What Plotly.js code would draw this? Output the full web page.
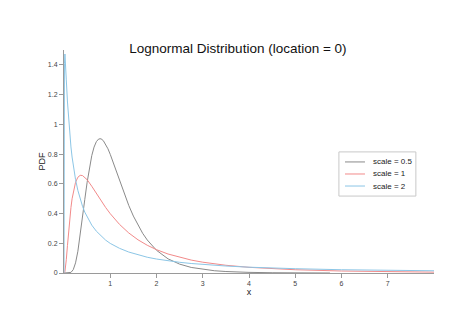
<!DOCTYPE html>
<html>
<head>
<meta charset="utf-8">
<script src="https://cdn.plot.ly/plotly-3.0.1.min.js"></script>
<style>html,body{margin:0;padding:0;background:#fff;}#chart{width:474px;height:335px;}</style>
</head>
<body>
<div id="chart"></div>
<script>
// scale = 0.5
const xScale05 = [0, 0.1, 0.15, 0.2, 0.25, 0.3, 0.35, 0.4, 0.45, 0.5, 0.55, 0.6, 0.65, 0.7, 0.75, 0.8, 0.85, 0.9, 0.95, 1.0, 1.05, 1.1, 1.15, 1.2, 1.3, 1.4, 1.5, 1.6, 1.7, 1.8, 1.9, 2.0, 2.25, 2.5, 2.75, 3.0, 3.25, 3.5, 3.75, 4.0, 4.5, 5.0, 5.75];
const yScale05 = [0, 0.0002, 0.0040, 0.0225, 0.0683, 0.1465, 0.2514, 0.3722, 0.4954, 0.6104, 0.7098, 0.7893, 0.8469, 0.8837, 0.9016, 0.9028, 0.8904, 0.8670, 0.8355, 0.7979, 0.7563, 0.7123, 0.6672, 0.6222, 0.5348, 0.4544, 0.3829, 0.3206, 0.2672, 0.2221, 0.1842, 0.1526, 0.0952, 0.0596, 0.0375, 0.0238, 0.0153, 0.0099, 0.0065, 0.0043, 0.0019, 0.0009, 0.0001];
// scale = 1
const xScale1 = [0, 0.01, 0.02, 0.03, 0.05, 0.075, 0.1, 0.125, 0.15, 0.175, 0.2, 0.25, 0.3, 0.35, 0.4, 0.45, 0.5, 0.6, 0.7, 0.8, 0.9, 1.0, 1.2, 1.4, 1.6, 1.8, 2.0, 2.25, 2.5, 2.75, 3.0, 3.5, 4.0, 4.5, 5.0, 6.0, 7.0, 8.0];
const yScale1 = [0, 0.0010, 0.0095, 0.0284, 0.0897, 0.1857, 0.2816, 0.3674, 0.4400, 0.4991, 0.5463, 0.6104, 0.6442, 0.6570, 0.6555, 0.6445, 0.6275, 0.5836, 0.5348, 0.4864, 0.4408, 0.3989, 0.3270, 0.2693, 0.2233, 0.1865, 0.1569, 0.1276, 0.1049, 0.0870, 0.0727, 0.0520, 0.0382, 0.0286, 0.0219, 0.0134, 0.0086, 0.0057];
// scale = 2
const xScale2 = [0, 0.001, 0.0025, 0.005, 0.01, 0.02, 0.03, 0.05, 0.075, 0.1, 0.125, 0.15, 0.175, 0.2, 0.25, 0.3, 0.35, 0.4, 0.45, 0.5, 0.6, 0.7, 0.8, 0.9, 1.0, 1.2, 1.4, 1.6, 1.8, 2.0, 2.25, 2.5, 2.75, 3.0, 3.5, 4.0, 4.5, 5.0, 6.0, 7.0, 8.0];
const yScale2 = [0, 0.512, 0.898, 1.194, 1.408, 1.473, 1.430, 1.299, 1.150, 1.028, 0.929, 0.848, 0.780, 0.722, 0.628, 0.555, 0.497, 0.449, 0.409, 0.376, 0.322, 0.281, 0.248, 0.221, 0.199, 0.166, 0.141, 0.121, 0.106, 0.094, 0.082, 0.072, 0.064, 0.057, 0.047, 0.039, 0.033, 0.029, 0.022, 0.018, 0.015];

const seriesNames = ["scale = 0.5", "scale = 1", "scale = 2"];
const xTicks = [1, 2, 3, 4, 5, 6, 7];
const yTicks = [0, 0.2, 0.4, 0.6, 0.8, 1, 1.2, 1.4];
const yTickText = ["0", "0.2", "0.4", "0.6", "0.8", "1", "1.2", "1.4"];

const colors = ["#8a8a8a", "#f28a8a", "#8cc6e6"];
const xs = [xScale05, xScale1, xScale2];
const ys = [yScale05, yScale1, yScale2];

const traces = seriesNames.map((n, i) => ({
  type: "scatter", mode: "lines", name: n,
  x: xs[i], y: ys[i],
  line: {color: colors[i], width: 1},
  showlegend: false
}));

const font = {family: "Liberation Sans, Arial, sans-serif", color: "#333"};

// compact legend drawn in paper coordinates
const legX0 = 0.743, legX1 = 0.951, legYTop = 0.543, legYBot = 0.345;
const legRowY = [0.498, 0.444, 0.390];
const shapes = [{type: "rect", xref: "paper", yref: "paper", x0: legX0, x1: legX1, y0: legYBot, y1: legYTop,
  line: {color: "#c8c8c8", width: 1}, fillcolor: "#fff", layer: "above"}];
const annotations = [];
seriesNames.forEach((n, i) => {
  shapes.push({type: "line", xref: "paper", yref: "paper", x0: 0.7595, x1: 0.8135, y0: legRowY[i], y1: legRowY[i],
    line: {color: colors[i], width: 1}, layer: "above"});
  annotations.push({xref: "paper", yref: "paper", x: 0.8297, y: legRowY[i], xanchor: "left", yanchor: "middle",
    text: n, showarrow: false, font: {size: 8, color: "#222"}});
});

const layout = {
  width: 474, height: 335,
  margin: {l: 64, r: 40, t: 50, b: 62},
  paper_bgcolor: "#fff", plot_bgcolor: "#fff",
  font: font,
  showlegend: false,
  shapes: shapes,
  annotations: annotations,
  title: {text: "Lognormal Distribution (location = 0)", font: {family: font.family, size: 13.5, color: "#111"}, x: 0.502, xanchor: "center", y: 0.857, yanchor: "middle"},
  xaxis: {
    range: [0, 8], showgrid: false, zeroline: false,
    showline: true, linecolor: "#9a9a9a", linewidth: 1,
    ticks: "outside", ticklen: 4, tickcolor: "#9a9a9a",
    tickvals: xTicks, ticktext: xTicks.map(String),
    tickfont: {size: 7, color: "#444"},
    title: {text: "x", font: {size: 9, color: "#222"}, standoff: 1}
  },
  yaxis: {
    range: [0, 1.5], showgrid: false, zeroline: false,
    showline: true, linecolor: "#9a9a9a", linewidth: 1,
    ticks: "outside", ticklen: 4, tickcolor: "#9a9a9a",
    tickvals: yTicks, ticktext: yTickText,
    tickfont: {size: 7, color: "#444"},
    title: {text: "PDF", font: {size: 9, color: "#222"}, standoff: 0}
  }
};

Plotly.newPlot("chart", traces, layout, {displayModeBar: false, staticPlot: true});
</script>
</body>
</html>
